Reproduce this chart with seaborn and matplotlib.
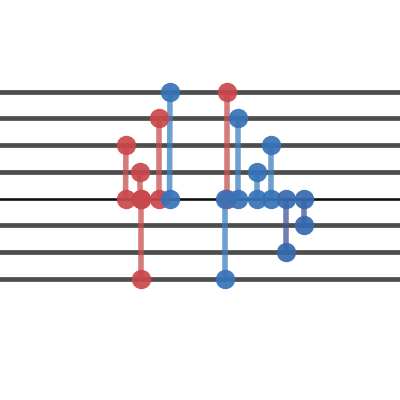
#!/usr/bin/env python3

import pandas as pd
import matplotlib

matplotlib.use("Agg")
import matplotlib.pyplot as plt
import seaborn as sns

# horizontal tracks, level 0 is the black one
levels = [4, 3, 2, 1, 0, -1, -2, -3]

# one entry per link, in drawing order
link_x = [126.5, 140, 141, 159, 227.5, 170.5, 225, 238, 257.5, 271, 286, 304]
link_x0 = [126, 141, 141, 159, 227.5, 170, 225, 238, 257.5, 271, 286, 304]
link_top = [2, 1, 0, 3, 4, 4, 0, 3, 1, 2, 0, 0]
link_bottom = [0, 0, -3, 0, 0, 0, -3, 0, 0, 0, -2, -1]
link_group = ["r", "r", "r", "r", "r", "b", "b", "b", "b", "b", "n", "n"]

line_colors = {"r": "#c94f52", "b": "#3f7fc0", "n": "#3f5596"}
dot_colors = {"r": "#c8474a", "b": "#3673b8", "n": "#3569ad"}

rows = []
for i in range(len(link_x)):
    rows.append((i, link_x[i], link_top[i], link_group[i]))
    rows.append((i, link_x0[i], link_bottom[i], link_group[i]))
df = pd.DataFrame(rows, columns=["link", "x", "level", "group"])

fig, ax = plt.subplots(figsize=(4, 4), dpi=100)
fig.subplots_adjust(0, 0, 1, 1)

for level in levels:
    if level == 0:
        ax.axhline(level, color="#111111", lw=1.9, zorder=1)
    else:
        ax.axhline(level, color="#4d4d4d", lw=3.4, zorder=1)

for i in df["link"].unique():
    part = df[df["link"] == i]
    group = part["group"].iloc[0]
    sns.lineplot(
        part,
        x="x",
        y="level",
        color=line_colors[group],
        lw=4.0,
        alpha=0.75,
        estimator=None,
        sort=False,
        solid_capstyle="butt",
        ax=ax,
        zorder=2 + i * 0.01,
    )
    sns.scatterplot(
        part,
        x="x",
        y="level",
        color=dot_colors[group],
        s=195,
        alpha=0.92,
        linewidth=0,
        ax=ax,
        zorder=3 + i * 0.01,
    )

ax.set_xlim(0.5, 400.5)
ax.set_ylim(-7.53, 7.43)
ax.axis("off")

plt.savefig("out.png", dpi=100)
